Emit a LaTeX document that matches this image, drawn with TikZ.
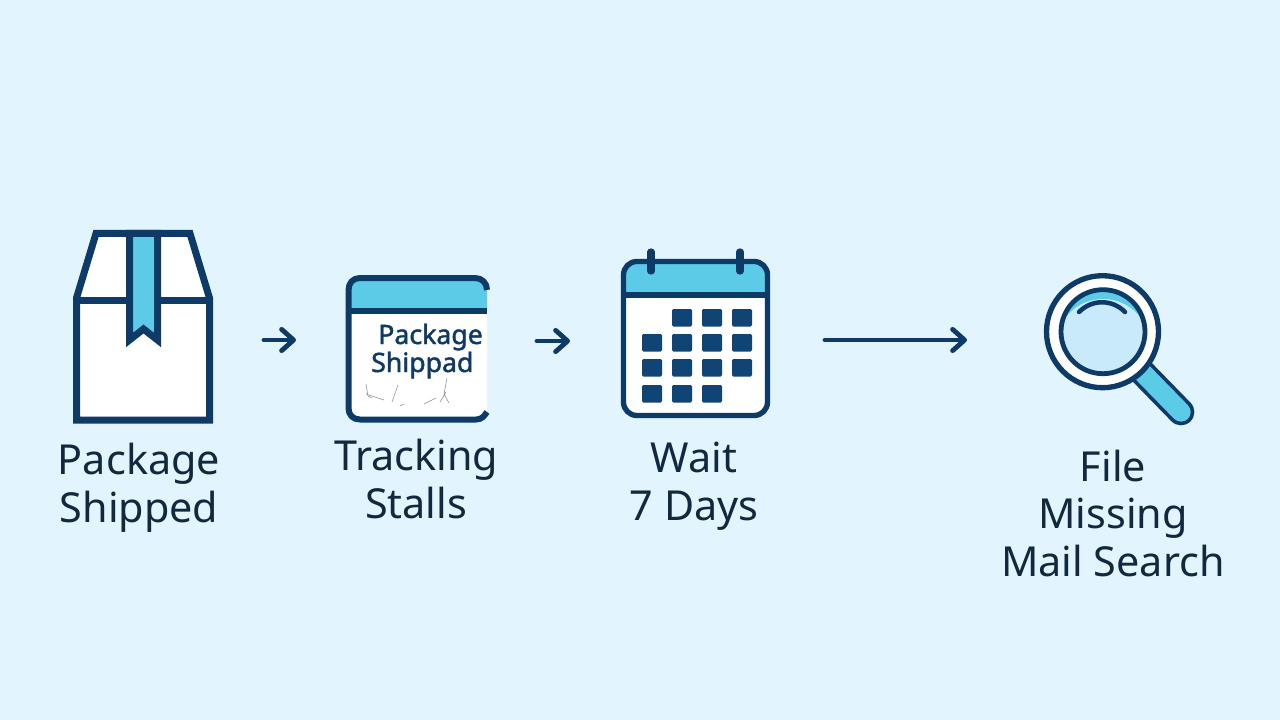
\documentclass[tikz,border=0pt]{standalone}
\usepackage{fontspec}
\setmainfont{Noto Sans}
\newfontfamily\cardfont[FakeBold=1.6]{Noto Sans}
\usetikzlibrary{arrows.meta}
\definecolor{bgc}{HTML}{E2F4FD}
\definecolor{navy}{HTML}{0E3A68}
\definecolor{cyanf}{HTML}{5CCBE8}
\definecolor{lens}{HTML}{C8EAFB}
\definecolor{cell}{HTML}{0F4474}
\definecolor{ink}{HTML}{10293F}
\tikzset{
  outline/.style={draw=navy,line width=5.25pt,line join=miter},
  thinline/.style={draw=navy,line width=3.75pt,line join=round},
  flow/.style={draw=navy,line width=3.6pt,line cap=round,-{Straight Barb[length=9pt,width=16pt,line width=3.6pt,round]}},
  caption/.style={font=\fontsize{31}{35.5}\selectfont,text=ink,align=center,inner sep=0pt,anchor=base},
  cardtext/.style={font=\fontsize{20}{21}\cardfont,text=navy,inner sep=0pt,anchor=base west},
  daycell/.style={fill=cell,rounded corners=1pt},
  scribble/.style={draw=black!45,line width=.4pt}
}
\begin{document}
\begin{tikzpicture}[x=.75pt,y=-.75pt]
\useasboundingbox (0,0) rectangle (1280,720);
\fill[bgc] (0,0) rectangle (1280,720);
% package box
\fill[white] (76.5,420) -- (209.5,420) -- (209.5,298) -- (190,233.5) -- (96,233.5) -- (76.5,298) -- cycle;
\draw[outline] (76.5,300) -- (209.5,300);
\draw[outline] (76.5,420) -- (209.5,420) -- (209.5,298) -- (190,233.5) -- (96,233.5) -- (76.5,298) -- cycle;
\draw[outline,fill=cyanf] (129.5,233.5) -- (157.5,233.5) -- (157.5,340) -- (143.5,329) -- (129.5,340) -- cycle;
% tracking card
\fill[white] (487,412) -- (487,290) .. controls (487,283) and (482,278) .. (475,278) -- (360,278) .. controls (353,278) and (348.5,283) .. (348.5,290) -- (348.5,408) .. controls (348.5,415) and (353,419.5) .. (360,419.5) -- (476,419.5) .. controls (482,419.5) and (487,416) .. (487,412) -- cycle;
\fill[cyanf] (487,311) -- (487,290) .. controls (487,283) and (482,278) .. (475,278) -- (360,278) .. controls (353,278) and (348.5,283) .. (348.5,290) -- (348.5,311) -- cycle;
\draw[thinline,line width=4pt] (348.5,311) -- (487,311);
\draw[thinline,line width=4.5pt] (487,412) .. controls (484,416) and (482,419.5) .. (476,419.5) -- (360,419.5) .. controls (353,419.5) and (348.5,415) .. (348.5,408) -- (348.5,290) .. controls (348.5,283) and (353,278) .. (360,278) -- (475,278) .. controls (482,278) and (487,283) .. (487,290);
\node[cardtext] (cardA) at (378,344) {Package};
\node[cardtext] (cardB) at (371,372) {Shippad};
\draw[scribble] (366,384) -- (368,396) -- (372,398) (366,394) -- (384,400) (398,385) -- (392,402) (404,404) -- (400,406) (424,404) -- (436,398) (447,378) -- (444,394) -- (449,403) (440,402) -- (446,392);
% calendar
\fill[white,rounded corners=10pt] (623.5,261.5) rectangle (767.5,415.5);
\begin{scope}
\clip (620,258) rectangle (771,295);
\fill[cyanf,rounded corners=10pt] (623.5,261.5) rectangle (767.5,330);
\end{scope}
\draw[thinline,line width=4pt] (623.5,295) -- (767.5,295);
\draw[thinline,line width=4pt,rounded corners=10pt] (623.5,261.5) rectangle (767.5,415.5);
\draw[thinline,line width=5.5pt,line cap=round] (651,252) -- (651,271);
\draw[thinline,line width=5.5pt,line cap=round] (740,252) -- (740,271);
\foreach \cx/\cy in {672/309,702/309,732/309,642/334,672/334,702/334,732/334,642/359,672/359,702/359,732/359,642/385,672/385,702/385}
  \fill[daycell] (\cx,\cy) rectangle ++(20,17.5);
% magnifier
\draw[navy,line width=20pt,line cap=round] (1141,371) -- (1181,412);
\draw[cyanf,line width=14.5pt,line cap=round] (1141,371) -- (1181,412);
\fill[white] (1102.5,331.7) circle (58);
\draw[thinline,line width=4pt] (1102.5,331.7) circle (56);
\fill[lens] (1103,331.7) circle (42);
\begin{scope}
\clip (1103,331.7) circle (42);
\fill[cyanf] (1060,285) rectangle (1146,330);
\fill[lens] (1103,346) circle (47);
\end{scope}
\draw[thinline,line width=3.6pt] (1103,331.7) circle (42);
\draw[thinline,line width=3.4pt,line cap=round] (1079,312) .. controls (1092,299) and (1112,299) .. (1125,312);
% connectors
\coordinate (a1s) at (264,340); \coordinate (a1e) at (296,340);
\coordinate (a2s) at (537,341); \coordinate (a2e) at (570,341);
\coordinate (a3s) at (825,340); \coordinate (a3e) at (967,340);
\draw[flow] (a1s) -- (a1e);
\draw[flow] (a2s) -- (a2e);
\draw[flow] (a3s) -- (a3e);
% captions
\node[caption] (capA) at (139,522) {Package\\Shipped};
\node[caption] (capB) at (416,518) {Tracking\\Stalls};
\node[caption] (capC) at (694,520) {Wait\\7 Days};
\node[caption] (capD) at (1113,576) {File\\Missing\\Mail Search};
\end{tikzpicture}
\end{document}
